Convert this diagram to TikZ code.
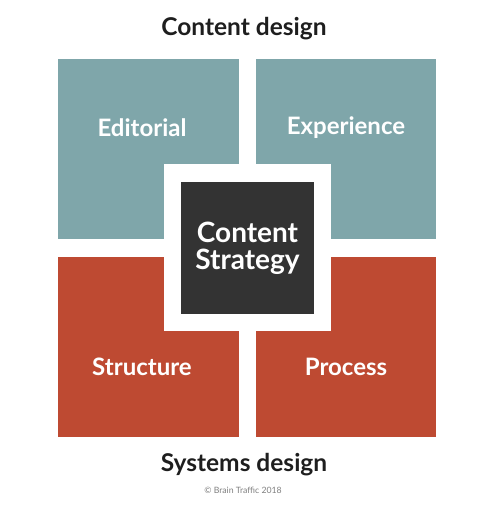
\documentclass[tikz,border=0pt]{standalone}
\usepackage{fontspec}
\setmainfont{Lato}
\definecolor{teal}{RGB}{127,166,170}
\definecolor{rust}{RGB}{190,74,50}
\definecolor{coal}{RGB}{51,51,51}
\definecolor{ink}{RGB}{30,30,30}
\tikzset{
  label/.style={text=white, font=\bfseries\fontsize{24}{28}\selectfont},
  heading/.style={text=ink, font=\bfseries\fontsize{24.5}{28}\selectfont}
}
\begin{document}
\begin{tikzpicture}[x=1pt, y=-1pt]
\useasboundingbox[fill=white] (0, 0) rectangle (486, 512);

\fill[teal] (58, 59) rectangle (239, 239);
\fill[teal] (256, 59) rectangle (436, 239);
\fill[rust] (58, 257) rectangle (239, 437);
\fill[rust] (256, 257) rectangle (436, 437);
\fill[white] (164, 164) rectangle (331, 331);

\node[fill=coal, minimum width=133pt, minimum height=132pt, inner sep=0pt,
  align=center, text=white, font=\bfseries\fontsize{28}{27}\selectfont] (core) at (247.5, 248) {Content\\Strategy};

\node[label] (editorial) at (142, 128) {Editorial};
\node[label] (experience) at (346, 128) {Experience};
\node[label] (structure) at (142, 367) {Structure};
\node[label] (process) at (346, 367) {Process};

\node[heading] (top) at (244, 29) {Content design};
\node[heading] (bottom) at (244, 465) {Systems design};
\node[text=gray, font=\fontsize{8.7}{10}\selectfont] (credit) at (243, 490) {© Brain Traffic 2018};
\end{tikzpicture}
\end{document}
